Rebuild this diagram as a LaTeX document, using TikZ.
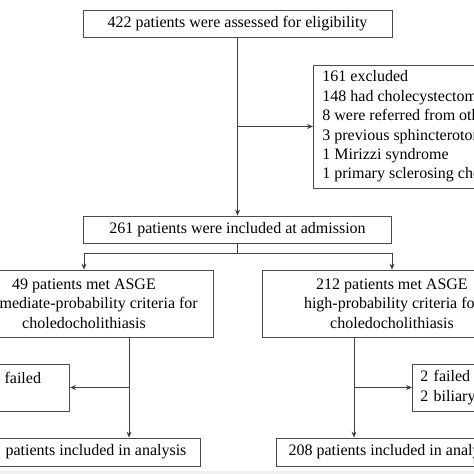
\documentclass[tikz,border=0pt]{standalone}
\usepackage{fontspec}
\setmainfont{Liberation Serif}
\usetikzlibrary{arrows.meta,positioning}
\tikzset{
  flowbox/.style={draw=black!70, line width=0.8pt, fill=white, inner ysep=3pt,
    font=\fontsize{16}{19.4}\selectfont},
  flowarrow/.style={draw=black!75, line width=0.8pt, -{Stealth[length=6pt,width=5pt]}},
  flowline/.style={draw=black!75, line width=0.8pt}
}
\begin{document}
\begin{tikzpicture}[x=1pt,y=-1pt]
    \useasboundingbox (0,0) rectangle (474,474);
    \clip (0,0) rectangle (474,474);
    \fill[gray!12] (0,471) rectangle (474,474);
    % main column
    \node[flowbox, minimum width=309pt, minimum height=27pt] (elig) at (237.5,23.5)
        {422 patients were assessed for eligibility};
    \node[flowbox, anchor=west, minimum height=123pt, align=left, inner xsep=9pt] (excl) at (313,126.5)
        {161 excluded\\148 had cholecystectomy\\8 were referred from other\\3 previous sphincterotomy\\1 Mirizzi syndrome\\1 primary sclerosing cholangitis};
    \node[flowbox, minimum width=308pt, minimum height=27pt] (adm) at (237.5,229.5)
        {261 patients were included at admission};
    % two groups
    \node[flowbox, minimum width=258pt, minimum height=67pt, align=center] (inter) at (84,303.5)
        {49 patients met ASGE\\intermediate-probability criteria for\\choledocholithiasis};
    \node[flowbox, minimum width=260pt, minimum height=67pt, align=center] (high) at (392,303.5)
        {212 patients met ASGE\\high-probability criteria for\\choledocholithiasis};
    \node[flowbox, anchor=east, minimum height=47pt, text width=56pt, inner xsep=9pt, align=left] (failL) at (70,387.5)
        {failed\\\mbox{}};
    \node[flowbox, anchor=west, minimum height=47pt, text width=90pt, inner xsep=8pt, align=left] (failR) at (412,387.5)
        {2 failed\\2 biliary};
    \node[flowbox, minimum width=208pt, minimum height=28pt] (finL) at (96,452)
        {patients included in analysis};
    \node[flowbox, minimum width=234pt, minimum height=28pt] (finR) at (393,452)
        {208 patients included in analysis};
    % connectors
    \coordinate (j1) at (elig.south |- excl.west);
    \coordinate (j2) at (237.5,253);
    \coordinate (sL) at (129,337);
    \coordinate (sR) at (354,337);
    \draw[flowarrow] (elig.south) -- (adm.north);
    \draw[flowarrow] (j1) -- (excl.west);
    \draw[flowline] (adm.south) -- (j2);
    \draw[flowline] (j2 -| inter.north) -- (j2 -| high.north);
    \draw[flowarrow] (j2 -| inter.north) -- (inter.north);
    \draw[flowarrow] (j2 -| high.north) -- (high.north);
    \draw[flowarrow] (sL) -- (sL |- finL.north);
    \draw[flowarrow] (sL |- failL.east) -- (failL.east);
    \draw[flowarrow] (sR) -- (sR |- finR.north);
    \draw[flowarrow] (sR |- failR.west) -- (failR.west);
\end{tikzpicture}
\end{document}
